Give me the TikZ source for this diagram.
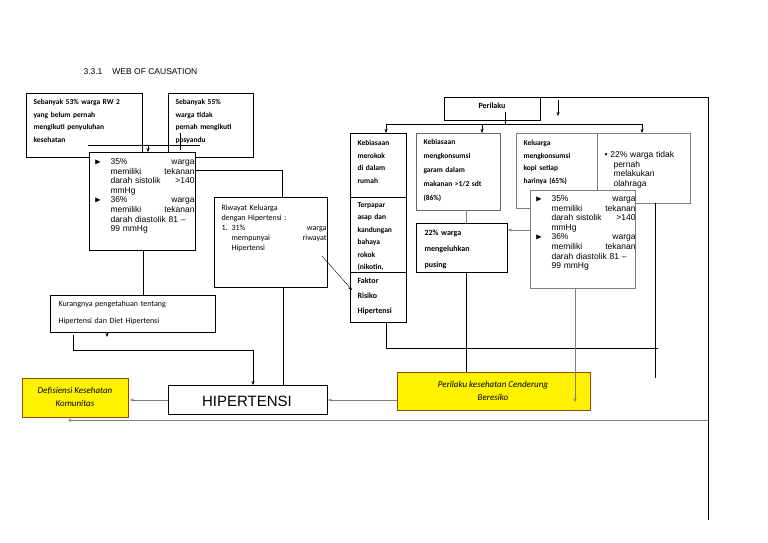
\documentclass[tikz,border=0pt]{standalone}
\usepackage{amssymb}
\usepackage{fontspec}
\setmainfont{Carlito}
\newfontfamily\arialf{Liberation Sans}
\usetikzlibrary{arrows.meta}
\begin{document}
\begin{tikzpicture}[x=1pt,y=-1pt,
  box/.style={draw,thick,fill=white,inner sep=0pt},
  txt/.style={anchor=north west,align=left,font=\fontsize{7.5}{12.5}\selectfont\bfseries},
  blt/.style={anchor=north west,text width=100pt,font=\arialf\fontsize{8.5}{9.6}\selectfont,align=left},
  ytxt/.style={align=center,font=\fontsize{9}{13}\selectfont\itshape},
  ln/.style={draw,thin},
  arr/.style={draw,thin,-{Stealth[length=4pt,width=3pt]}}]
\useasboundingbox (0,0) rectangle (768,543);
\node[anchor=west,font=\arialf\fontsize{8.5}{10}\selectfont] (title) at (80,72) {3.3.1\hspace{10pt}WEB OF CAUSATION};
% boxes
\draw[box] (26,93) rectangle (142,157);
\node[txt,text width=112pt] (b1) at (30,96) {Sebanyak 53\% warga RW 2\\ yang belum pernah\\ mengikuti penyuluhan\\ kesehatan};
\draw[box] (168,93) rectangle (253,157);
\node[txt,text width=82pt] (b2) at (172,96) {Sebanyak 55\%\\ warga tidak\\ pernah mengikuti\\ posyandu};
\draw[ln] (88,145) -- (200,145);
\draw[ln] (180,133) -- (180,150);
\draw[box] (89,152) rectangle (195,250);
\node[blt] (b3) at (91,155) {%
\makebox[16pt][l]{$\blacktriangleright$}35\% \hfill warga\\
\hspace*{16pt}memiliki \hfill tekanan\\ \hspace*{16pt}darah sistolik \hfill >140\\ \hspace*{16pt}mmHg\\
\makebox[16pt][l]{$\blacktriangleright$}36\% \hfill warga\\
\hspace*{16pt}memiliki \hfill tekanan\\ \hspace*{16pt}darah diastolik 81 –\\ \hspace*{16pt}99 mmHg};
\draw[arr] (148,145) -- (148,152);
\coordinate (c1) at (282,170);
\draw[ln] (195,170) -- (c1) -- (282,197);
\draw[box] (214,197) rectangle (327,287);
\node[anchor=north west,text width=105pt,font=\fontsize{8}{10}\selectfont,align=left] (riw) at (218,201) {Riwayat Keluarga\\ dengan Hipertensi :\\
1. 31\% \hfill warga\\ \hspace*{10pt}mempunyai \hfill riwayat\\ \hspace*{10pt}Hipertensi};
\draw[ln] (143,250) -- (143,295);
\draw[box] (50,295) rectangle (215,332);
\node[txt,text width=160pt,font=\fontsize{8}{17}\selectfont] (kur) at (55,297) {Kurangnya pengetahuan tentang\\ Hipertensi dan Diet Hipertensi};
\draw[arr] (107,332) -- (107,337);
\draw[arr] (73,335) -- (73,350) -- (253,350) -- (253,385);
\draw[ln] (283,287) -- (283,385);
% Perilaku
\draw[ln] (444,97) -- (708,97);
\draw[box] (444,97) rectangle (540,120);
\node[font=\fontsize{8}{10}\selectfont\bfseries] (per) at (492,106) {Perilaku};
\draw[arr] (558,100) -- (558,116);
\draw[ln] (505,112) -- (505,124);
\draw[ln] (386,124) -- (642,124);
\draw[arr] (386,124) -- (386,133);
\draw[arr] (482,124) -- (482,133);
\draw[arr] (642,124) -- (642,133);
\draw[box] (350,133) rectangle (406,322);
\draw[thick] (350,197) -- (406,197); \draw[thick] (350,272) -- (406,272);
\node[txt,text width=52pt] (k1) at (354,137) {Kebiasaan\\ merokok\\ di dalam\\ rumah};
\node[txt,text width=52pt] (k2) at (354,199) {Terpapar\\ asap dan\\ kandungan\\ bahaya\\ rokok\\ (nikotin,};
\node[txt,text width=52pt,font=\fontsize{8}{15}\selectfont\bfseries] (k3) at (354,274) {Faktor\\ Risiko\\ Hipertensi};
\draw[arr] (322,256) -- (352,290);
\draw[box,draw=gray!80!black] (416,133) rectangle (500,210);
\node[txt,text width=82pt,font=\fontsize{7.5}{14}\selectfont\bfseries] (k4) at (420,136) {Kebiasaan\\ mengkonsumsi\\ garam dalam\\ makanan >1/2 sdt\\ (86\%)};
\draw[box,draw=gray] (516,133) rectangle (600,208);
\node[txt,text width=82pt] (k5) at (520,137) {Keluarga\\ mengkonsumsi\\ kopi setiap\\ harinya (65\%)};
\draw[box,draw=gray] (597,133) rectangle (690,203);
\node[blt,text width=88pt] (k6) at (601,148) {• 22\% warga tidak\\ \hspace*{9pt}pernah\\ \hspace*{9pt}melakukan\\ \hspace*{9pt}olahraga};
\draw[ln] (556,205) -- (556,190);
\draw[box,draw=gray] (530,190) rectangle (635,288);
\node[blt] (k7) at (532,192) {%
\makebox[16pt][l]{$\blacktriangleright$}35\% \hfill warga\\
\hspace*{16pt}memiliki \hfill tekanan\\ \hspace*{16pt}darah sistolik \hfill >140\\ \hspace*{16pt}mmHg\\
\makebox[16pt][l]{$\blacktriangleright$}36\% \hfill warga\\
\hspace*{16pt}memiliki \hfill tekanan\\ \hspace*{16pt}darah diastolik 81 –\\ \hspace*{16pt}99 mmHg};
\draw[box] (416,223) rectangle (507,272);
\node[txt,text width=85pt,font=\fontsize{8}{16}\selectfont\bfseries] (pus) at (421,226) {22\% warga\\ mengeluhkan\\ pusing};
\draw[ln,gray] (466,210) -- (466,223);
\draw[arr,gray] (530,230) -- (508,230);
\draw[ln] (466,272) -- (466,372);
\draw[ln] (386,322) -- (386,348) -- (658,348);
\draw[ln] (655,203) -- (655,378);
% bottom
\draw[box,draw=orange!60!black,fill=yellow] (397,372) rectangle (590,410);
\node[ytxt] (pk) at (493,391) {Perilaku kesehatan Cenderung\\ Beresiko};
\draw[arr,gray] (575,288) -- (575,402);
\draw[box] (168,385) rectangle (327,414);
\node[font=\arialf\fontsize{15}{17}\selectfont] (hip) at (247,401) {HIPERTENSI};
\draw[box,draw=orange!60!black,fill=yellow] (22,378) rectangle (128,417);
\node[ytxt] (def) at (75,397) {Defisiensi Kesehatan\\ Komunitas};
\draw[arr,gray] (397,400) -- (328,400);
\draw[arr,gray] (168,400) -- (130,400);
\draw[ln] (708,97) -- (708,520);
\draw[arr,gray] (708,420) -- (70,420) -- (70,418);
\end{tikzpicture}
\end{document}
